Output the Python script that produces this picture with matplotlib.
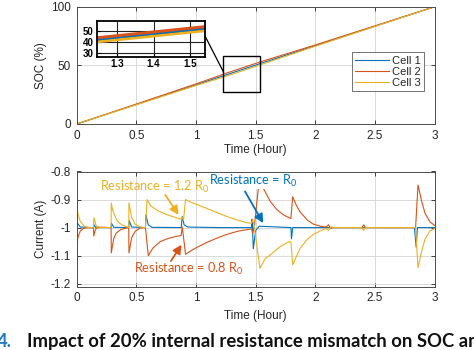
import matplotlib
matplotlib.use("Agg")
import matplotlib.pyplot as plt
from matplotlib.lines import Line2D
from matplotlib.patches import Rectangle

# ---------------- data ----------------
soc_t = [0.0, 0.5, 1.0, 1.25, 1.54, 2.0, 2.5, 3.0]
soc_cell1 = [0.0, 16.7, 33.4, 41.8, 51.6, 66.8, 83.4, 100.0]
soc_cell2 = [0.0, 17.0, 34.2, 43.2, 53.0, 67.4, 83.7, 100.0]
soc_cell3 = [0.0, 16.4, 32.8, 40.6, 50.5, 66.3, 83.2, 100.0]
soc_labels = ["Cell 1", "Cell 2", "Cell 3"]

blue_t = [0.0, 0.008, 0.03, 0.14, 0.145, 0.16, 0.288, 0.292, 0.31, 0.436, 0.44, 0.46,
          0.576, 0.58, 0.60, 0.63, 0.875, 0.885, 0.90, 0.93, 1.2, 1.465, 1.47, 1.48,
          1.50, 1.53, 1.795, 1.80, 1.81, 2.83, 2.845, 2.855, 3.0]
blue_v = [-0.96, -0.985, -0.998, -1.0, -0.99, -1.0, -1.0, -0.985, -0.999, -1.0, -0.975, -0.998,
          -1.0, -0.955, -0.99, -0.999, -1.0, -0.96, -0.99, -0.998, -1.0, -1.0, -0.97, -1.075,
          -1.01, -0.995, -1.0, -1.04, -1.0, -1.0, -1.07, -1.0, -1.0]

red_t = [0.0, 0.003, 0.01, 0.03, 0.06, 0.14, 0.143, 0.155, 0.17, 0.288, 0.29, 0.31, 0.33,
         0.37, 0.43, 0.436, 0.438, 0.46, 0.49, 0.53, 0.576, 0.60, 0.64, 0.70, 0.77, 0.84,
         0.875, 0.885, 0.912, 0.96, 1.01, 1.08, 1.15, 1.22, 1.29, 1.36, 1.43, 1.465, 1.475,
         1.49, 1.53, 1.57, 1.62, 1.675, 1.73, 1.795, 1.81, 1.84, 1.87, 1.93, 1.98, 2.04,
         2.09, 2.11, 2.13, 2.15, 2.39, 2.405, 2.42, 2.84, 2.86, 2.89, 2.92, 2.96, 3.0]
red_v = [-1.2, -1.06, -1.035, -1.012, -1.002, -1.0, -1.03, -1.01, -0.998, -1.0, -1.09, -1.04, -1.02,
         -1.007, -1.0, -1.0, -1.09, -1.037, -1.013, -1.002, -1.0, -1.10, -1.072, -1.05, -1.038, -1.031,
         -1.028, -0.998, -1.095, -1.082, -1.07, -1.055, -1.042, -1.03, -1.02, -1.012, -1.007, -1.005, -1.02,
         -0.99, -0.83, -0.865, -0.905, -0.935, -0.954, -0.968, -0.89, -0.92, -0.943, -0.972, -0.987, -0.995,
         -0.998, -0.99, -1.003, -1.0, -1.0, -0.99, -1.0, -1.0, -0.848, -0.905, -0.95, -0.98, -0.992]

yel_t = [0.0, 0.003, 0.01, 0.03, 0.06, 0.09, 0.14, 0.145, 0.16, 0.175, 0.19, 0.288, 0.29, 0.30,
         0.315, 0.34, 0.38, 0.43, 0.436, 0.438, 0.46, 0.49, 0.53, 0.576, 0.59, 0.62, 0.68, 0.75,
         0.82, 0.875, 0.885, 0.895, 0.912, 0.96, 1.01, 1.08, 1.15, 1.22, 1.29, 1.36, 1.43, 1.465,
         1.475, 1.49, 1.535, 1.58, 1.62, 1.70, 1.77, 1.795, 1.81, 1.87, 1.93, 1.98, 2.04, 2.09,
         2.11, 2.13, 2.15, 2.39, 2.405, 2.42, 2.84, 2.86, 2.89, 2.92, 2.96, 3.0]
yel_v = [-0.8, -0.92, -0.95, -0.978, -0.994, -1.0, -1.0, -0.965, -0.99, -1.003, -1.0, -1.0, -0.912, -0.935,
         -0.953, -0.977, -0.991, -0.999, -1.0, -0.912, -0.963, -0.988, -0.998, -1.0, -0.90, -0.922, -0.94, -0.953,
         -0.963, -0.97, -0.962, -0.975, -0.90, -0.91, -0.918, -0.93, -0.942, -0.954, -0.965, -0.975, -0.983, -0.985,
         -0.97, -1.0, -1.145, -1.11, -1.098, -1.069, -1.052, -1.05, -1.133, -1.075, -1.043, -1.025, -1.012, -1.003,
         -1.01, -0.997, -1.0, -1.0, -1.01, -1.0, -1.0, -1.143, -1.085, -1.04, -1.012, -1.003]

soc_xticks = [0, 0.5, 1, 1.5, 2, 2.5, 3]
soc_xticklabels = ["0", "0.5", "1", "1.5", "2", "2.5", "3"]
soc_yticks = [0, 50, 100]
cur_yticks = [-1.2, -1.1, -1.0, -0.9, -0.8]
cur_yticklabels = ["-1.2", "-1.1", "-1", "-0.9", "-0.8"]
inset_xticks = [1.3, 1.4, 1.5]
inset_yticks = [30, 40, 50]

C_BLUE = "#0072BD"
C_RED = "#D95319"
C_YEL = "#EDB120"
TXT = "#262626"
GRID = "#d4d4d4"

plt.rcParams["font.family"] = ["Liberation Sans", "DejaVu Sans"]
plt.rcParams["mathtext.fontset"] = "custom"
plt.rcParams["mathtext.rm"] = "Lato"
plt.rcParams["mathtext.it"] = "Lato:italic"
plt.rcParams["mathtext.bf"] = "Lato:bold"

W, H = 474, 350
fig = plt.figure(figsize=(W / 100, H / 100), dpi=100)


def px_axes(x0, y0, x1, y1):
    return [x0 / W, 1 - y1 / H, (x1 - x0) / W, (y1 - y0) / H]


def style(ax):
    ax.tick_params(direction="in", top=True, right=True, length=3, width=0.6,
                   colors=TXT, labelsize=8.5, pad=4)
    for s in ax.spines.values():
        s.set_color("#4d4d4d")
        s.set_linewidth(0.7)
    ax.grid(True, color=GRID, lw=0.6)
    ax.set_axisbelow(True)


# ---------------- top: SOC ----------------
ax1 = fig.add_axes(px_axes(76.7, 6.7, 434.7, 124))
style(ax1)
ax1.plot(soc_t, soc_cell1, color=C_BLUE, lw=0.8, label=soc_labels[0])
ax1.plot(soc_t, soc_cell2, color=C_RED, lw=0.8, label=soc_labels[1])
ax1.plot(soc_t, soc_cell3, color=C_YEL, lw=0.8, label=soc_labels[2])
ax1.set_xlim(0, 3)
ax1.set_ylim(0, 100)
ax1.set_xticks(soc_xticks)
ax1.set_xticklabels(soc_xticklabels)
ax1.set_yticks(soc_yticks)
ax1.set_xlabel("Time (Hour)", fontsize=8.5, color=TXT, labelpad=2)
ax1.set_ylabel("SOC (%)", fontsize=8.5, color=TXT, labelpad=3)
leg = ax1.legend(loc="upper right", bbox_to_anchor=(0.97, 0.61), borderaxespad=0,
                 fontsize=8, frameon=True, fancybox=False, handlelength=3.0,
                 handletextpad=0.3, labelspacing=0.1, borderpad=0.3)
leg.get_frame().set_edgecolor("#333333")
leg.get_frame().set_linewidth(0.6)
for t in leg.get_texts():
    t.set_color(TXT)

# zoom rectangle
ax1.add_patch(Rectangle((1.23, 27.6), 0.31, 30.4, fill=False, ec="black", lw=1.0, zorder=5))

# inset
axi = fig.add_axes(px_axes(96.7, 20.7, 205, 56.7))
axi.plot(soc_t, soc_cell1, color=C_BLUE, lw=3)
axi.plot(soc_t, soc_cell3, color=C_YEL, lw=3)
axi.plot(soc_t, soc_cell2, color=C_RED, lw=3)
axi.plot(soc_t, soc_cell1, color=C_BLUE, lw=1)
axi.set_xlim(1.244, 1.541)
axi.set_ylim(26.4, 59)
axi.set_xticks(inset_xticks)
axi.set_yticks(inset_yticks)
axi.tick_params(direction="in", length=3, width=0.8, labelsize=7, pad=2, colors="black")
for lab in axi.get_xticklabels() + axi.get_yticklabels():
    lab.set_fontweight("bold")
axi.grid(True, color="#222222", lw=0.8)
for s in axi.spines.values():
    s.set_color("black")
    s.set_linewidth(1.3)
fig.add_artist(Line2D([205 / W, 223.5 / W], [1 - 36 / H, 1 - 72 / H], color="black", lw=0.9))

# ---------------- bottom: current ----------------
ax2 = fig.add_axes(px_axes(76.7, 171.5, 434.7, 286.5))
style(ax2)
ax2.plot(blue_t, blue_v, color=C_BLUE, lw=0.8)
ax2.plot(red_t, red_v, color=C_RED, lw=0.8)
ax2.plot(yel_t, yel_v, color=C_YEL, lw=0.8)
ax2.set_xlim(0, 3)
ax2.set_ylim(-1.21, -0.8)
ax2.set_xticks(soc_xticks)
ax2.set_xticklabels(soc_xticklabels)
ax2.set_yticks(cur_yticks)
ax2.set_yticklabels(cur_yticklabels)
ax2.set_xlabel("Time (Hour)", fontsize=8.5, color=TXT, labelpad=4)
ax2.set_ylabel("Current (A)", fontsize=8.5, color=TXT, labelpad=3)

afs = 9.2
ax2.text(1.105, -0.834, r"Resistance = R$_\mathrm{0}$", color=C_BLUE, fontsize=afs,
         family="Lato", va="center", ha="left", zorder=6,
         bbox=dict(facecolor="white", edgecolor="none", pad=0.3))
ax2.text(0.195, -0.855, r"Resistance = 1.2 R$_\mathrm{0}$", color=C_YEL, fontsize=afs,
         family="Lato", va="center", ha="left", zorder=8)
ax2.text(0.48, -1.149, r"Resistance = 0.8 R$_\mathrm{0}$", color=C_RED, fontsize=afs,
         family="Lato", va="center", ha="left", zorder=6)
ap = dict(arrowstyle="-|>", lw=1.3, mutation_scale=13, shrinkA=0, shrinkB=0)
ax2.annotate("", xy=(0.854, -0.955), xytext=(0.742, -0.883),
             arrowprops=dict(ap, color=C_YEL), zorder=7)
ax2.annotate("", xy=(0.879, -1.061), xytext=(0.79, -1.119),
             arrowprops=dict(ap, color=C_RED), zorder=7)
ax2.annotate("", xy=(1.563, -0.984), xytext=(1.41, -0.871),
             arrowprops=dict(ap, color=C_BLUE), zorder=7)

# ---------------- caption ----------------
fig.text(-3 / W, 1 - 341.5 / H, "4.", color="#1f78c1", fontsize=13.3, fontweight="bold",
         family="Lato", va="center", ha="left")
fig.text(27 / W, 1 - 341.5 / H, "Impact of 20% internal resistance mismatch on SOC and current",
         color="#111111", fontsize=13.3, fontweight="bold", family="Lato", va="center", ha="left")

fig.savefig("out.png", dpi=100)
